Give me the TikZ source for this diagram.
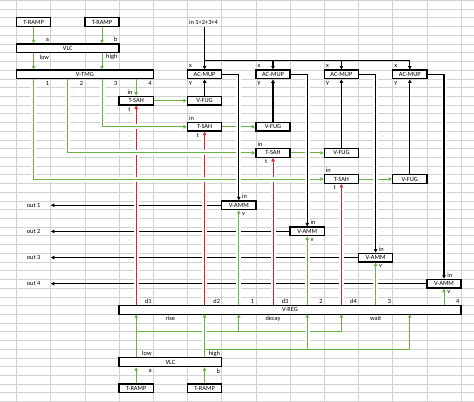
\documentclass[tikz,border=0pt]{standalone}
\usepackage{fontspec}
\setmainfont{Carlito}
\usetikzlibrary{arrows.meta}
\definecolor{wgreen}{RGB}{106,180,70}
\definecolor{wred}{RGB}{228,28,36}

\begin{document}
\begin{tikzpicture}[x=34.2bp, y=-8.72bp,
  font=\fontsize{6.4}{7}\selectfont,
  >={Triangle[length=3.4bp,width=3.4bp]},
  box/.style={draw, fill=white, line width=1.3bp, inner sep=0pt, minimum height=8.72bp, minimum width=#1*34.2bp},
  box/.default=1,
  lbl/.style={inner sep=1.5bp},
  outlbl/.style={inner sep=0pt, minimum width=34.2bp},
  gridln/.style={draw=gray!35, line width=0.5bp},
  bline/.style={line width=1.1bp},
  gline/.style={draw=wgreen, line width=1bp},
  rline/.style={draw=wred, line width=1bp},
  cut/.style={preaction={draw=white, line width=5bp, -, shorten <=2.5bp, shorten >=2.5bp}}]

\useasboundingbox (-0.4825,-0.0344) rectangle (13.3772,46.066);
\draw[gridln, xstep=34.2bp, ystep=8.72bp] (-0.4825,-0.0344) grid (13.3772,46.066);

% timing part
\node[box] (rampa) at (0.5,2.5) {T-RAMP};
\node[box] (rampb) at (2.5,2.5) {T-RAMP};
\node[box=3] (vlca) at (1.5,5.5) {VLC};
\node[box=4] (vtmg) at (2,8.5) {V-TMG};
\node[lbl, anchor=east] (la) at (1,4.5) {a};
\node[lbl, anchor=east] (lb) at (3,4.5) {b};
\node[lbl, anchor=east] (llow) at (1,6.5) {low};
\node[lbl, anchor=east] (lhigh) at (3,6.5) {high};
\node[lbl, anchor=east] (tm1) at (1,9.5) {1};
\node[lbl, anchor=east] (tm2) at (2,9.5) {2};
\node[lbl, anchor=east] (tm3) at (3,9.5) {3};
\node[lbl, anchor=east] (tm4) at (4,9.5) {4};

% four channels
\node[lbl, anchor=west, minimum height=8.72bp] (lin) at (5,2.5) {in 1+2+3+4};
\node[box] (acmup1) at (5.5,8.5) {AC-MUP};
\node[box] (acmup2) at (7.5,8.5) {AC-MUP};
\node[box] (acmup3) at (9.5,8.5) {AC-MUP};
\node[box] (acmup4) at (11.5,8.5) {AC-MUP};
\node[lbl, anchor=west] (x1) at (5,7.5) {x};
\node[lbl, anchor=west] (x2) at (7,7.5) {x};
\node[lbl, anchor=west] (x3) at (9,7.5) {x};
\node[lbl, anchor=west] (x4) at (11,7.5) {x};
\node[lbl, anchor=west] (y1) at (5,9.5) {y};
\node[lbl, anchor=west] (y2) at (7,9.5) {y};
\node[lbl, anchor=west] (y3) at (9,9.5) {y};
\node[lbl, anchor=west] (y4) at (11,9.5) {y};

\node[box] (tsah1) at (3.5,11.5) {T-SAH};
\node[box] (tsah2) at (5.5,14.5) {T-SAH};
\node[box] (tsah3) at (7.5,17.5) {T-SAH};
\node[box] (tsah4) at (9.5,20.5) {T-SAH};
\node[lbl, anchor=west] (si1) at (3.2,10.5) {in};
\node[lbl, anchor=west] (si2) at (5,13.5) {in};
\node[lbl, anchor=west] (si3) at (7,16.5) {in};
\node[lbl, anchor=west] (si4) at (9,19.5) {in};
\node[lbl, anchor=west] (st1) at (3.22,12.5) {t};
\node[lbl, anchor=west] (st2) at (5.22,15.5) {t};
\node[lbl, anchor=west] (st3) at (7.22,18.5) {t};
\node[lbl, anchor=west] (st4) at (9.22,21.5) {t};

\node[box] (vfug1) at (5.5,11.5) {V-FUG};
\node[box] (vfug2) at (7.5,14.5) {V-FUG};
\node[box] (vfug3) at (9.5,17.5) {V-FUG};
\node[box] (vfug4) at (11.5,20.5) {V-FUG};

\node[box] (vamm1) at (6.5,23.5) {V-AMM};
\node[box] (vamm2) at (8.5,26.5) {V-AMM};
\node[box] (vamm3) at (10.5,29.5) {V-AMM};
\node[box] (vamm4) at (12.5,32.5) {V-AMM};
\node[lbl, anchor=west] (ai1) at (6.55,22.5) {in};
\node[lbl, anchor=west] (ai2) at (8.55,25.5) {in};
\node[lbl, anchor=west] (ai3) at (10.55,28.5) {in};
\node[lbl, anchor=west] (ai4) at (12.55,31.5) {in};
\node[lbl, anchor=west] (av1) at (6.55,24.5) {v};
\node[lbl, anchor=west] (av2) at (8.55,27.5) {v};
\node[lbl, anchor=west] (av3) at (10.55,30.5) {v};
\node[lbl, anchor=west] (av4) at (12.55,33.5) {v};
\node[outlbl] (lout1) at (0.5,23.5) {out 1};
\node[outlbl] (lout2) at (0.5,26.5) {out 2};
\node[outlbl] (lout3) at (0.5,29.5) {out 3};
\node[outlbl] (lout4) at (0.5,32.5) {out 4};

% regulator part
\node[box=10] (vreg) at (8,35.5) {V-REG};
\node[lbl, anchor=east] (rd1) at (4,34.5) {d1};
\node[lbl, anchor=east] (rd2) at (6,34.5) {d2};
\node[lbl, anchor=east] (ro1) at (7,34.5) {1};
\node[lbl, anchor=east] (rd3) at (8,34.5) {d3};
\node[lbl, anchor=east] (ro2) at (9,34.5) {2};
\node[lbl, anchor=east] (rd4) at (10,34.5) {d4};
\node[lbl, anchor=east] (ro3) at (11,34.5) {3};
\node[lbl, anchor=east] (ro4) at (13,34.5) {4};
\node[lbl] (lrise) at (4.5,36.5) {rise};
\node[lbl] (ldecay) at (7.5,36.5) {decay};
\node[lbl] (lwait) at (10.5,36.5) {wait};
\node[box=3] (vlcb) at (4.5,41.5) {VLC};
\node[box] (rampc) at (3.5,44.5) {T-RAMP};
\node[box] (rampd) at (5.5,44.5) {T-RAMP};
\node[lbl, anchor=east] (blow) at (4,40.5) {low};
\node[lbl, anchor=east] (bhigh) at (6,40.5) {high};
\node[lbl, anchor=east] (ba) at (4,42.5) {a};
\node[lbl, anchor=east] (bb) at (6,42.5) {b};

\coordinate (busj) at (5.5,6.9);
\coordinate (lowj) at (3.5,38);
\coordinate (highj) at (5.5,40);
\coordinate (rise1) at (3.5,36);
\coordinate (rise2) at (5.5,36);
\coordinate (dec1) at (6.5,36);
\coordinate (dec2) at (8.5,36);
\coordinate (wait1) at (9.5,36);
\coordinate (wait2) at (11.5,36);

% outputs
\draw[bline,->] (vamm1.west) -- (lout1.east);
\draw[bline,->] (vamm2.west) -- (lout2.east);
\draw[bline,->] (vamm3.west) -- (lout3.east);
\draw[bline,->] (vamm4.west) -- (lout4.east);

\draw[rline,->,cut] (tsah1.south |- vreg.north) -- (tsah1.south);
\draw[rline,->,cut] (tsah2.south |- vreg.north) -- (tsah2.south);
\draw[rline,->,cut] (tsah3.south |- vreg.north) -- (tsah3.south);
\draw[rline,->,cut] (tsah4.south |- vreg.north) -- (tsah4.south);

\draw[gline,->,cut] (vamm1.south |- vreg.north) -- (vamm1.south);
\draw[gline,->,cut] (vamm2.south |- vreg.north) -- (vamm2.south);
\draw[gline,->,cut] (vamm3.south |- vreg.north) -- (vamm3.south);
\draw[gline,->,cut] (vamm4.south |- vreg.north) -- (vamm4.south);

% timing wires
\draw[gline,->] (rampa.south) -- (rampa.south |- vlca.north);
\draw[gline,->] (rampb.south) -- (rampb.south |- vlca.north);
\draw[gline,->] (vlca.south -| rampa) -- (rampa |- vtmg.north);
\draw[gline,->] (vlca.south -| rampb) -- (rampb |- vtmg.north);
\draw[gline,->] (vtmg.south -| tsah1) -- (tsah1.north);
\draw[gline,->,cut] (vtmg.south -| rampb) |- (tsah2.west);
\draw[gline,->,cut] (vtmg.south -| vlca) |- (tsah3.west);
\draw[gline,->,cut] (vtmg.south -| rampa) |- (tsah4.west);

\draw[gline,->] (tsah1.east) -- (vfug1.west);
\draw[gline,->] (tsah2.east) -- (vfug2.west);
\draw[gline,->] (tsah3.east) -- (vfug3.west);
\draw[gline,->] (tsah4.east) -- (vfug4.west);

% signal wires
\draw[bline,->] (acmup1.north |- lin.south) -- (acmup1.north);
\draw[bline] (busj) -- (busj -| acmup4);
\draw[bline,->] (busj -| acmup2) -- (acmup2.north);
\draw[bline,->] (busj -| acmup3) -- (acmup3.north);
\draw[bline,->] (busj -| acmup4) -- (acmup4.north);

\draw[bline,->] (vfug1.north) -- (acmup1.south);
\draw[bline,->] (vfug2.north) -- (acmup2.south);
\draw[bline,->] (vfug3.north) -- (acmup3.south);
\draw[bline,->] (vfug4.north) -- (acmup4.south);

\draw[bline,->,cut] (acmup1.east) -| (vamm1.north);
\draw[bline,->,cut] (acmup2.east) -| (vamm2.north);
\draw[bline,->,cut] (acmup3.east) -| (vamm3.north);
\draw[bline,->,cut] (acmup4.east) -| (vamm4.north);

% regulator wires
\draw[gline,->] (rampc.north) -- (rampc.north |- vlcb.south);
\draw[gline,->] (rampd.north) -- (rampd.north |- vlcb.south);
\draw[gline,->] (vlcb.north -| rise1) -- (rise1);
\draw[gline] (lowj) -- (lowj -| wait1);
\draw[gline,->] (lowj -| dec1) -- (dec1);
\draw[gline,->] (lowj -| wait1) -- (wait1);
\draw[gline,->,cut] (vlcb.north -| rise2) -- (rise2);
\draw[gline] (highj) -- (highj -| wait2);
\draw[gline,->,cut] (highj -| dec2) -- (dec2);
\draw[gline,->] (highj -| wait2) -- (wait2);

\end{tikzpicture}
\end{document}
